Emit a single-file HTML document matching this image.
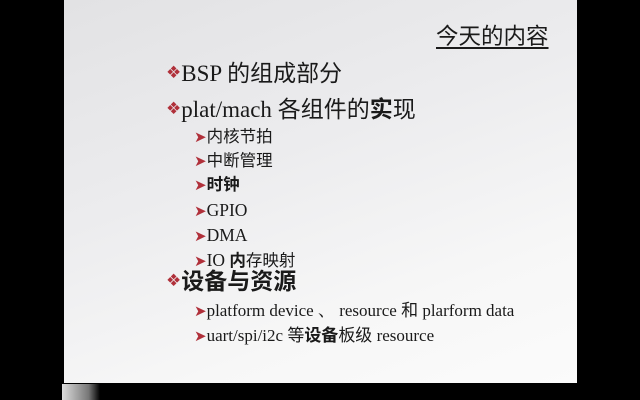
<!DOCTYPE html>
<html><head><meta charset="utf-8"><style>
body{margin:0;width:640px;height:400px;background:#000;overflow:hidden;position:relative;font-family:"Liberation Serif","Noto Serif CJK SC","Noto Sans CJK SC",serif;color:#1a1a1a}
.slide{position:absolute;left:64px;top:0;width:513px;height:383px;background:linear-gradient(160deg,#e2e2e4 0%,#ececee 40%,#f7f7f7 75%,#fbfbfb 100%)}
.t{position:absolute;white-space:nowrap;line-height:1}
.cjk{font-family:"Liberation Sans","Noto Sans CJK SC",sans-serif}
.a{color:#b0303a;font-family:"DejaVu Sans",sans-serif}
.corner{position:absolute;left:62px;top:384px;width:38px;height:16px;background:linear-gradient(90deg,#ddd,#777 70%,#000)}
</style></head><body>
<div class="slide"></div>
<div class="corner"></div>
<div class="t cjk" style="left:436px;top:26px;font-size:22.5px;text-decoration:underline;text-underline-offset:3px">今天的内容</div>

<div class="t" style="left:166px;top:62px;font-size:23px"><span class="a" style="font-size:17px;vertical-align:3px">❖</span>BSP <span class="cjk">的组成部分</span></div>
<div class="t" style="left:166px;top:98px;font-size:23px"><span class="a" style="font-size:17px;vertical-align:3px">❖</span>plat/mach <span class="cjk">各组件的<b>实</b>现</span></div>

<div class="t cjk" style="left:194px;top:129px;font-size:16.5px"><span class="a" style="font-size:15px">➤</span>内核节拍</div>
<div class="t cjk" style="left:194px;top:153px;font-size:16.5px"><span class="a" style="font-size:15px">➤</span>中断管理</div>
<div class="t cjk" style="left:194px;top:177px;font-size:16.5px"><span class="a" style="font-size:15px">➤</span><b>时钟</b></div>
<div class="t" style="left:194px;top:202px;font-size:17.5px"><span class="a" style="font-size:15px">➤</span>GPIO</div>
<div class="t" style="left:194px;top:227px;font-size:17.5px"><span class="a" style="font-size:15px">➤</span>DMA</div>
<div class="t" style="left:194px;top:252px;font-size:17.5px"><span class="a" style="font-size:15px">➤</span>IO <span class="cjk" style="font-size:16.5px"><b>内</b>存映射</span></div>

<div class="t cjk" style="left:166px;top:270px;font-size:23px;font-weight:bold"><span class="a" style="font-size:17px;vertical-align:3px;font-weight:normal">❖</span>设备与资源</div>

<div class="t" style="left:194px;top:302px;font-size:17px"><span class="a" style="font-size:15px">➤</span>platform device 、 resource <span class="cjk">和</span> plarform data</div>
<div class="t" style="left:194px;top:327px;font-size:17px"><span class="a" style="font-size:15px">➤</span>uart/spi/i2c <span class="cjk">等<b>设备</b>板级</span> resource</div>
</body></html>
